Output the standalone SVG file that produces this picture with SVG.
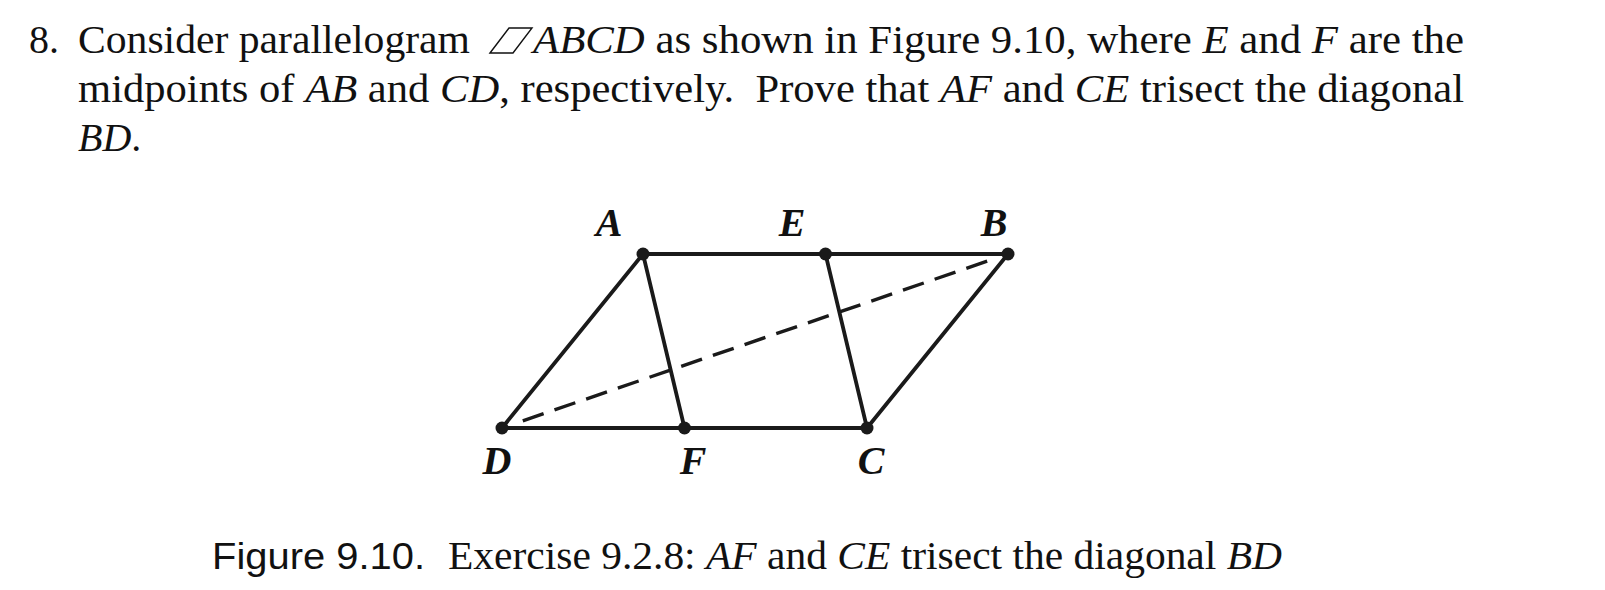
<svg xmlns="http://www.w3.org/2000/svg" width="1605" height="590" viewBox="0 0 1605 590">
<style>
.t{font-family:"Liberation Serif",serif;font-size:40px;fill:#111}
.i{font-style:italic}
.lbl{font-family:"Liberation Serif",serif;font-size:40px;font-weight:bold;font-style:italic;fill:#111;text-anchor:middle}
.s{stroke:#1a1a1a;stroke-width:3.8;fill:none;stroke-linecap:round}
.d{stroke:#1a1a1a;stroke-width:3.4;fill:none;stroke-dasharray:22 11.5}
.dot{fill:#1a1a1a}
</style>
<rect width="1605" height="590" fill="#fff"/>
<g id="problem-text">
<text class="t" x="29" y="53">8.</text>
<text class="t" x="78" y="53" textLength="392" lengthAdjust="spacingAndGlyphs">Consider parallelogram</text>
<path d="M490 53 L509 28 L532 28 L513 53 Z" fill="none" stroke="#111" stroke-width="1.4"/>
<text class="t" x="533" y="53" textLength="931" lengthAdjust="spacingAndGlyphs"><tspan class="i">ABCD</tspan> as shown in Figure 9.10, where <tspan class="i">E</tspan> and <tspan class="i">F</tspan> are the</text>
<text class="t" x="78" y="102" textLength="1386" lengthAdjust="spacingAndGlyphs">midpoints of <tspan class="i">AB</tspan> and <tspan class="i">CD</tspan>, respectively.&#160; Prove that <tspan class="i">AF</tspan> and <tspan class="i">CE</tspan> trisect the diagonal</text>
<text class="t" x="78" y="151"><tspan class="i">BD</tspan>.</text>
</g>
<g id="connectors">
<line class="d" x1="522.8" y1="420.8" x2="987.2" y2="261.2"/>
<line class="s" x1="643" y1="254" x2="1008" y2="254"/>
<line class="s" x1="502" y1="428" x2="867" y2="428"/>
<line class="s" x1="643" y1="254" x2="502" y2="428"/>
<line class="s" x1="1008" y1="254" x2="867" y2="428"/>
<line class="s" x1="643" y1="254" x2="684.5" y2="428"/>
<line class="s" x1="825.5" y1="254" x2="867" y2="428"/>
</g>
<g id="node-A"><circle class="dot" cx="643" cy="254" r="6.5"/><text class="lbl" x="609" y="236">A</text></g>
<g id="node-E"><circle class="dot" cx="825.5" cy="254" r="6.5"/><text class="lbl" x="792" y="236">E</text></g>
<g id="node-B"><circle class="dot" cx="1008" cy="254" r="6.5"/><text class="lbl" x="994" y="236">B</text></g>
<g id="node-D"><circle class="dot" cx="502" cy="428" r="6.5"/><text class="lbl" x="497" y="474">D</text></g>
<g id="node-F"><circle class="dot" cx="684.5" cy="428" r="6.5"/><text class="lbl" x="693" y="474">F</text></g>
<g id="node-C"><circle class="dot" cx="867" cy="428" r="6.5"/><text class="lbl" x="871" y="474">C</text></g>
<g id="caption">
<text x="212" y="569" textLength="213" lengthAdjust="spacingAndGlyphs" style="font-family:'Liberation Sans',sans-serif;font-size:36px;fill:#111">Figure 9.10.</text>
<text class="t" x="448" y="569" textLength="834" lengthAdjust="spacingAndGlyphs">Exercise 9.2.8: <tspan class="i">AF</tspan> and <tspan class="i">CE</tspan> trisect the diagonal <tspan class="i">BD</tspan></text>
</g>
</svg>
